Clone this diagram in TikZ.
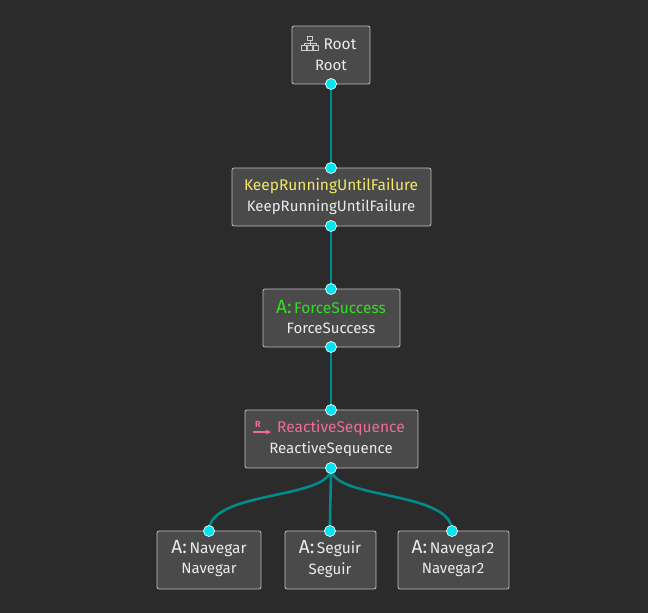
\documentclass[tikz,border=0pt]{standalone}
\usepackage{fontspec}
\setmainfont{Fira Sans}
\begin{document}
\begin{tikzpicture}[x=1pt,y=-1pt,
  box/.style={draw=white!75!black,fill=white!29!black,rounded corners=2pt,line width=0.8pt},
  edge/.style={draw=edgecol,line width=2.6pt},
  port/.style={circle,fill=portcol,draw=white,line width=0.7pt,inner sep=0pt,minimum size=11pt},
  tl/.style={font=\fontsize{15.5}{17}\selectfont},
  nl/.style={font=\fontsize{15}{17}\selectfont,text=white!92!black}]
\definecolor{bg}{HTML}{2B2B2B}
\definecolor{edgecol}{HTML}{008C8C}
\definecolor{portcol}{HTML}{00E5F0}
\definecolor{krcol}{HTML}{F2E86B}
\definecolor{fscol}{HTML}{33DD22}
\definecolor{rscol}{HTML}{F06A9A}
\fill[bg] (0,0) rectangle (648,613);
\useasboundingbox (0,0) rectangle (648,613);
% boxes
\draw[box] (292,26) rectangle (370,84);
\draw[box] (232,168) rectangle (431,226);
\draw[box] (263,289) rectangle (400,347);
\draw[box] (245,410) rectangle (418,468);
\draw[box] (157,531) rectangle (261,589);
\draw[box] (285,531) rectangle (376,589);
\draw[box] (398,531) rectangle (509,589);
% ports
\coordinate (rootB) at (331,84);
\coordinate (krT) at (331,168); \coordinate (krB) at (331,226);
\coordinate (fsT) at (331,289); \coordinate (fsB) at (331,347);
\coordinate (rsT) at (331,410); \coordinate (rsB) at (331,468);
\coordinate (n1T) at (209,531); \coordinate (n2T) at (330,531); \coordinate (n3T) at (452,531);
\draw[edge] (rootB) -- (krT);
\draw[edge] (krB) -- (fsT);
\draw[edge] (fsB) -- (rsT);
\draw[edge] (rsB) .. controls (331,500) and (209,490) .. (n1T);
\draw[edge] (rsB) .. controls (331,490) and (330,500) .. (n2T);
\draw[edge] (rsB) .. controls (331,500) and (452,490) .. (n3T);
\foreach \p in {rootB,krT,krB,fsT,fsB,rsT,rsB,n1T,n2T,n3T} \node[port] at (\p) {};
% Root
\node[tl,text=white!92!black,anchor=west] (rt) at (320,44) {Root};
\begin{scope}[draw=white!80!black,line width=0.6pt]
 \draw (307.5,36) rectangle (312.5,40.5);
 \draw (310,40.5) -- (310,43) (304,43) -- (316,43) (304,43)--(304,45) (310,43)--(310,45) (316,43)--(316,45);
 \draw (301.5,45) rectangle (306.5,50); \draw (307.5,45) rectangle (312.5,50); \draw (313.5,45) rectangle (318.5,50);
\end{scope}
\node[nl] (rn) at (331,65) {Root};
% KR
\node[tl,text=krcol] (kt) at (331,186) {KeepRunningUntilFailure};
\node[nl] (kn) at (331,207) {KeepRunningUntilFailure};
% FS
\node[tl,text=fscol] (ft) at (331,307) {{\fontsize{19}{19}\selectfont A:}\,ForceSuccess};
\node[nl] (fn) at (331,328) {ForceSuccess};
% RS
\node[tl,text=rscol] (rst) at (341,428) {ReactiveSequence};
\draw[rscol,line width=1.3pt,->,>=stealth] (253,432) -- (271,432);
\node[text=rscol,font=\fontsize{9}{9}\selectfont\bfseries] at (258,424) {R};
\node[nl] (rsn) at (331,449) {ReactiveSequence};
% leaves
\node[tl,text=white!92!black] (a1) at (209,549) {{\fontsize{19}{19}\selectfont A:}\,Navegar};
\node[nl] (a1n) at (209,570) {Navegar};
\node[tl,text=white!92!black] (a2) at (330,549) {{\fontsize{19}{19}\selectfont A:}\,Seguir};
\node[nl] (a2n) at (330,570) {Seguir};
\node[tl,text=white!92!black] (a3) at (453,549) {{\fontsize{19}{19}\selectfont A:}\,Navegar2};
\node[nl] (a3n) at (453,570) {Navegar2};
\end{tikzpicture}
\end{document}
